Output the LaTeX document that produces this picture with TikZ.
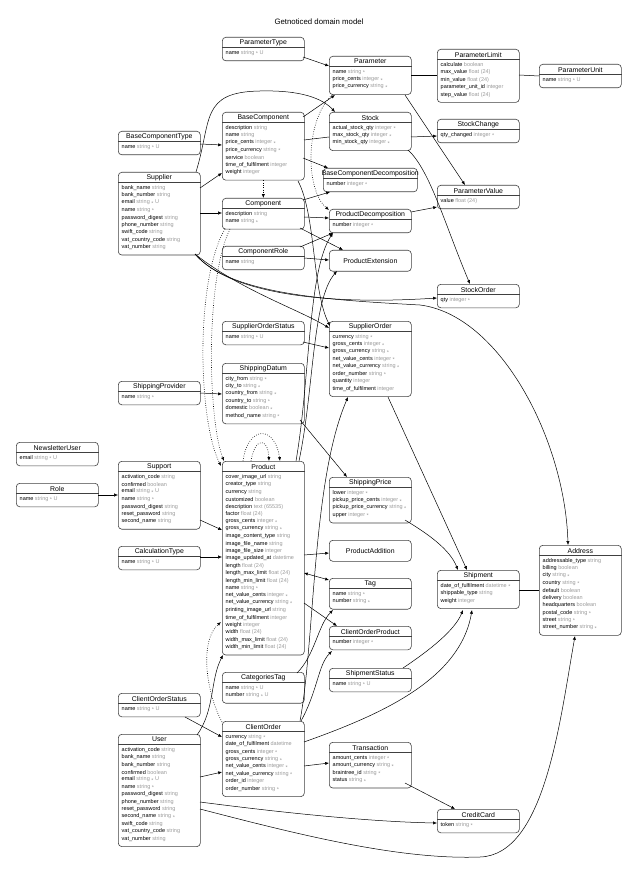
\documentclass[tikz,border=0pt]{standalone}
\usepackage{fontspec}
\setmainfont{Liberation Sans}
\usetikzlibrary{arrows.meta,calc}
\definecolor{typeGray}{gray}{0.6}
\definecolor{boxGray}{gray}{0.25}
\newcommand{\req}{\raisebox{-0.55ex}{*}}
% one table of the model: [width]{name}{x}{y}{rows}{name/type list}
\newcommand{\entity}[6][82]{%
  \pgfmathsetmacro{\entH}{23.5+(#5-1)*7.4}%
  \node[entityStyle, minimum width=#1pt, minimum height=\entH pt] (#2) at (#3,#4) {};
  \node[headStyle] at ($(#2.north)+(0,5.6)$) {#2};
  \draw[sepStyle] ($(#2.north west)+(0,10.5)$) -- ($(#2.north east)+(0,10.5)$);
  \foreach \attrName/\attrType [count=\i from 0] in {#6}
    \node[rowStyle] at ($(#2.north west)+(3.5,16+7.4*\i)$) {\attrName\ \textcolor{typeGray}{\attrType}};
}
\begin{document}
\begin{tikzpicture}[x=1pt, y=-1pt,
    entityStyle/.style={draw=boxGray, line width=0.6pt, rounded corners=3.5pt, anchor=north west, inner sep=0pt},
    headStyle/.style={inner sep=0pt, font=\fontsize{6.9}{8}\selectfont},
    sepStyle/.style={draw=boxGray, line width=0.6pt},
    rowStyle/.style={anchor=west, inner sep=0pt, font=\fontsize{5.5}{6.5}\selectfont},
    rel/.style={-{Latex[length=3.8pt, width=3.2pt]}, line width=0.5pt},
    relBoth/.style={{Latex[length=3.8pt, width=3.2pt]}-{Latex[length=3.8pt, width=3.2pt]}, line width=0.5pt},
    relPlain/.style={line width=0.5pt},
    relDot/.style={rel, line width=0.6pt, dash pattern=on 0.7pt off 1.6pt}]
  \useasboundingbox (0,0) rectangle (638,874);
  \node[font=\fontsize{7.8}{9}\selectfont] (title) at (319,22) {Getnoticed domain model};

  % tables, top to bottom
  \entity{ParameterType}{222}{37}{1}{name/string \req{} U}
  \entity{Parameter}{329}{56}{3}{name/string \req, price\_cents/integer \req, price\_currency/string \req}
  \entity{ParameterLimit}{437}{49}{5}{calculate/boolean, max\_value/float (24), min\_value/float (24), parameter\_unit\_id/integer, step\_value/float (24)}
  \entity{ParameterUnit}{539}{64}{1}{name/string \req{} U}
  \entity{BaseComponent}{222}{112}{7}{description/string, name/string, price\_cents/integer \req, price\_currency/string \req, service/boolean, time\_of\_fulfilment/integer, weight/integer}
  \entity{BaseComponentType}{118}{131}{1}{name/string \req{} U}
  \entity{Stock}{329}{112}{3}{actual\_stock\_qty/integer \req, max\_stock\_qty/integer \req, min\_stock\_qty/integer \req}
  \entity{StockChange}{437}{119}{1}{qty\_changed/integer \req}
  \entity[94]{BaseComponentDecomposition}{323}{168}{1}{number/integer \req}
  \entity{ParameterValue}{437}{185}{1}{value/float (24)}
  \entity{Supplier}{118}{172}{9}{bank\_name/string, bank\_number/string, email/string \req{} U, name/string \req, password\_digest/string, phone\_number/string, swift\_code/string, vat\_country\_code/string, vat\_number/string}
  \entity{Component}{222}{198}{2}{description/string, name/string \req}
  \entity{ProductDecomposition}{329}{209}{1}{number/integer \req}
  \entity{ComponentRole}{222}{246}{1}{name/string}
  \node[entityStyle, minimum width=82pt, minimum height=21pt] (ProductExtension) at (329,250) {};
  \node[headStyle] at (ProductExtension.center) {ProductExtension};
  \entity{StockOrder}{437}{284}{1}{qty/integer \req}
  \entity{SupplierOrderStatus}{222}{321}{1}{name/string \req{} U}
  \entity{SupplierOrder}{329}{321}{8}{currency/string \req, gross\_cents/integer \req, gross\_currency/string \req, net\_value\_cents/integer \req, net\_value\_currency/string \req, order\_number/string \req, quantity/integer, time\_of\_fulfilment/integer}
  \entity{ShippingDatum}{222}{363}{6}{city\_from/string \req, city\_to/string \req, country\_from/string \req, country\_to/string \req, domestic/boolean \req, method\_name/string \req}
  \entity{ShippingProvider}{118}{381}{1}{name/string \req}
  \entity{NewsletterUser}{16}{442}{1}{email/string \req{} U}
  \entity{Role}{16}{483}{1}{name/string \req{} U}
  \entity{Support}{118}{461}{7}{activation\_code/string, confirmed/boolean, email/string \req{} U, name/string \req, password\_digest/string, reset\_password/string, second\_name/string}
  \entity{CalculationType}{118}{546}{1}{name/string \req{} U}
  \entity{Product}{222}{461}{24}{cover\_image\_url/string, creator\_type/string, currency/string, customized/boolean, description/text (65535), factor/float (24), gross\_cents/integer \req, gross\_currency/string \req, image\_content\_type/string, image\_file\_name/string, image\_file\_size/integer, image\_updated\_at/datetime, length/float (24), length\_max\_limit/float (24), length\_min\_limit/float (24), name/string \req, net\_value\_cents/integer \req, net\_value\_currency/string \req, printing\_image\_url/string, time\_of\_fulfilment/integer, weight/integer, width/float (24), width\_max\_limit/float (24), width\_min\_limit/float (24)}
  \entity{ShippingPrice}{329}{477}{4}{lower/integer \req, pickup\_price\_cents/integer \req, pickup\_price\_currency/string \req, upper/integer \req}
  \node[entityStyle, minimum width=82pt, minimum height=21pt] (ProductAddition) at (329,540) {};
  \node[headStyle] at (ProductAddition.center) {ProductAddition};
  \entity{Tag}{329}{578}{2}{name/string \req, number/string \req}
  \entity{ClientOrderProduct}{329}{626}{1}{number/integer \req}
  \entity{Shipment}{437}{570}{3}{date\_of\_fulfilment/datetime \req, shippable\_type/string, weight/integer}
  \entity{Address}{539}{545}{10}{addressable\_type/string, billing/boolean, city/string \req, country/string \req, default/boolean, delivery/boolean, headquarters/boolean, postal\_code/string \req, street/string \req, street\_number/string \req}
  \entity{ShipmentStatus}{329}{668}{1}{name/string \req{} U}
  \entity{CategoriesTag}{222}{672}{2}{name/string \req{} U, number/string \req{} U}
  \entity{ClientOrderStatus}{118}{693}{1}{name/string \req{} U}
  \entity{ClientOrder}{222}{721}{8}{currency/string \req, date\_of\_fulfilment/datetime, gross\_cents/integer \req, gross\_currency/string \req, net\_value\_cents/integer \req, net\_value\_currency/string \req, order\_id/integer, order\_number/string \req}
  \entity{User}{118}{734}{13}{activation\_code/string, bank\_name/string, bank\_number/string, confirmed/boolean, email/string \req{} U, name/string \req, password\_digest/string, phone\_number/string, reset\_password/string, second\_name/string \req, swift\_code/string, vat\_country\_code/string, vat\_number/string}
  \entity{Transaction}{329}{742}{4}{amount\_cents/integer \req, amount\_currency/string \req, braintree\_id/string \req, status/string \req}
  \entity{CreditCard}{437}{809}{1}{token/string \req}

  % relations
  \draw[rel] ($(ParameterType.north west)+(81,20)$) -- ($(Parameter.north west)+(0,10)$);
  \draw[relPlain] ($(Parameter.north west)+(82,19)$) -- ($(ParameterLimit.north west)+(0,26)$);
  \draw[relPlain] ($(ParameterLimit.north west)+(82,26)$) -- ($(ParameterUnit.north west)+(0,12)$);
  \draw[rel] ($(Parameter.north west)+(76,39)$) -- ($(ParameterValue.north west)+(28,0)$);
  \draw[rel] ($(BaseComponent.north west)+(81,5)$) -- ($(Parameter.north west)+(6,39)$);
  \draw[rel] ($(Supplier.north west)+(78,0)$) .. controls (212,120) and (200,92) .. (260,91)
    .. controls (300,90) and (322,98) .. ($(Stock.north west)+(6,0)$);
  \draw[relPlain] ($(BaseComponent.north west)+(82,28)$) -- ($(Stock.north west)+(0,25)$);
  \draw[rel] ($(Stock.north west)+(82,25)$) -- ($(StockChange.north west)+(0,17)$);
  \draw[rel] ($(Stock.north west)+(79,38)$) .. controls (430,170) and (445,225) .. ($(StockOrder.north west)+(33,0)$);
  \draw[rel] ($(BaseComponent.north west)+(81,46)$) -- ($(BaseComponentDecomposition.north west)+(5,0)$);
  \draw[rel] ($(BaseComponentType.north west)+(82,13)$) -- ($(BaseComponent.north west)+(0,33)$);
  \draw[rel] ($(Supplier.north west)+(82,16)$) -- ($(BaseComponent.north west)+(0,61)$);
  \draw[rel] ($(Supplier.north west)+(82,41)$) -- ($(Component.north west)+(0,15)$);
  \draw[relDot] (BaseComponent.south) -- (Component.north);
  \draw[rel] ($(Component.north west)+(81,2)$) -- ($(BaseComponentDecomposition.north west)+(7,24)$);
  \draw[rel] ($(Component.north west)+(82,19)$) -- ($(ProductDecomposition.north west)+(0,9)$);
  \draw[rel] ($(ProductDecomposition.north west)+(82,3)$) -- ($(ParameterValue.north west)+(0,22)$);
  \draw[rel] ($(Component.north west)+(78,30)$) -- ($(ProductExtension.north west)+(14,0)$);
  \draw[rel] ($(ComponentRole.north west)+(78,1)$) -- ($(ProductDecomposition.north west)+(4,24)$);
  \draw[rel] ($(ComponentRole.north west)+(82,12)$) -- ($(ProductExtension.north west)+(0,10)$);
  \draw[rel] ($(Product.north west)+(74,0)$) .. controls (310,380) and (308,270) .. ($(ProductDecomposition.north west)+(4,24)$);
  \draw[rel] ($(Product.north west)+(77,0)$) .. controls (314,390) and (312,300) .. ($(ProductExtension.north west)+(8,21)$);
  \draw[rel] ($(BaseComponent.north west)+(76,69)$) .. controls (316,215) and (312,290) .. ($(SupplierOrder.north west)+(1,5)$);
  \draw[rel] ($(Supplier.north west)+(77,82)$) .. controls (240,290) and (300,310) .. ($(SupplierOrder.north west)+(0,7)$);
  \draw[rel] ($(Supplier.north west)+(77,82)$) .. controls (230,295) and (330,305) .. ($(StockOrder.north west)+(0,14)$);
  \draw[rel] ($(Supplier.north west)+(77,82)$) .. controls (230,295) and (330,300) .. (420,305)
    .. controls (500,315) and (565,440) .. ($(Address.north west)+(29,0)$);
  \draw[rel] ($(SupplierOrderStatus.north west)+(81,21)$) -- ($(SupplierOrder.north west)+(0,27)$);
  \draw[rel] ($(SupplierOrder.north west)+(59,76)$) -- ($(Shipment.north west)+(30,0)$);
  \draw[rel] ($(ClientOrder.north west)+(78,0)$) .. controls (315,640) and (312,480) .. ($(SupplierOrder.north west)+(19,76)$);
  \draw[rel] ($(ShippingDatum.north west)+(78,57)$) -- ($(ShippingPrice.north west)+(18,0)$);
  \draw[rel] ($(ShippingProvider.north west)+(82,12)$) -- ($(ShippingDatum.north west)+(0,31)$);
  \draw[rel] ($(ShippingPrice.north west)+(76,43)$) .. controls (430,535) and (450,550) .. ($(Shipment.north west)+(21,0)$);
  \draw[rel] ($(Role.north west)+(82,12)$) -- ($(Support.north west)+(0,34)$);
  \draw[rel] ($(Support.north west)+(82,59)$) -- ($(Product.north west)+(0,69)$);
  \draw[rel] ($(CalculationType.north west)+(82,11)$) -- ($(Product.north west)+(0,96)$);
  \draw[rel] ($(Product.north west)+(82,94)$) -- ($(ProductAddition.north west)+(0,13)$);
  \draw[relBoth] ($(Product.north west)+(82,112)$) -- ($(Tag.north west)+(0,2)$);
  \draw[rel] ($(Product.north west)+(82,142)$) -- ($(ClientOrderProduct.north west)+(8,0)$);
  \draw[rel] ($(CategoriesTag.north west)+(75,1)$) .. controls (315,655) and (318,625) .. ($(Tag.north west)+(4,32)$);
  \draw[rel] ($(ClientOrder.north west)+(79,0)$) .. controls (318,690) and (318,665) .. ($(ClientOrderProduct.north west)+(3,25)$);
  \draw[rel] ($(ClientOrder.north west)+(82,21)$) .. controls (380,715) and (460,680) .. ($(Shipment.north west)+(35,40)$);
  \draw[rel] ($(ShipmentStatus.north west)+(74,0)$) .. controls (430,650) and (455,630) .. ($(Shipment.north west)+(26,40)$);
  \draw[relPlain] ($(Shipment.north west)+(82,20)$) -- ($(Address.north west)+(0,45)$);
  \draw[rel] ($(ClientOrderStatus.north west)+(67,24)$) -- ($(ClientOrder.north west)+(0,16)$);
  \draw[rel] ($(User.north west)+(82,43)$) -- ($(ClientOrder.north west)+(0,51)$);
  \draw[rel] ($(User.north west)+(79,1)$) .. controls (215,710) and (210,680) .. ($(Product.north west)+(1,194)$);
  \draw[rel] ($(ClientOrder.north west)+(82,45)$) -- ($(Transaction.north west)+(0,21)$);
  \draw[rel] ($(Transaction.north west)+(76,41)$) -- ($(CreditCard.north west)+(18,0)$);
  \draw[rel] ($(User.north west)+(82,68)$) .. controls (300,815) and (380,822) .. ($(CreditCard.north west)+(0,14)$);
  \draw[rel] ($(User.north west)+(82,75)$) .. controls (300,835) and (400,860) .. (480,857)
    .. controls (545,855) and (560,720) .. ($(Address.north west)+(36,91)$);
  \draw[relDot] ($(ClientOrder.north west)+(0,1)$) .. controls (205,690) and (200,640) .. ($(Product.north west)+(-1,161)$);
  \draw[relDot] ($(Component.north west)+(3,31)$) .. controls (195,280) and (198,420) .. ($(Product.north west)+(-1,5)$);
  \draw[relDot] ($(Component.north west)+(8,31)$) .. controls (205,280) and (208,420) .. ($(Product.north west)+(2,0)$);
  \draw[relDot] ($(Product.north west)+(21,0)$) .. controls (248,425) and (275,425) .. ($(Product.north west)+(58,0)$);
  \draw[relDot] ($(Product.north west)+(29,0)$) .. controls (255,437) and (268,437) .. ($(Product.north west)+(47,0)$);
  \draw[relDot] ($(Parameter.north west)+(3,39)$) .. controls (305,120) and (305,190) .. ($(ProductDecomposition.north west)+(0,1)$);
\end{tikzpicture}
\end{document}
